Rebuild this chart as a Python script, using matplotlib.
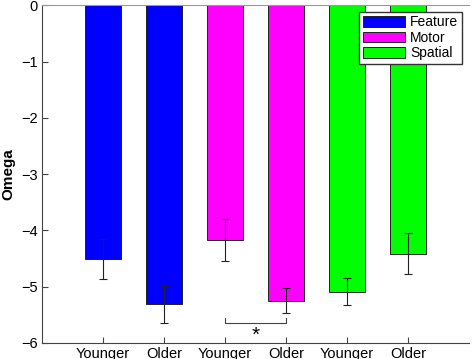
import numpy as np
import matplotlib
matplotlib.use("Agg")
import matplotlib.pyplot as plt
from matplotlib.patches import Patch

plt.rcParams['font.family'] = ['Liberation Sans', 'DejaVu Sans']

groups = ['Younger', 'Older', 'Younger', 'Older', 'Younger', 'Older']
omega = [-4.51, -5.31, -4.17, -5.25, -5.09, -4.41]
errs = [0.35, 0.33, 0.38, 0.22, 0.24, 0.36]
conditions = ['Feature', 'Motor', 'Spatial']
colors = ['#0000ff', '#ff00ff', '#00ff00']
bar_colors = [colors[0], colors[0], colors[1], colors[1], colors[2], colors[2]]

fig = plt.figure(figsize=(4.74, 3.59), dpi=100)
ax = fig.add_axes([0.0886, 0.0446, 0.9004, 0.9401])

x = np.arange(1, 7)
ax.bar(x, omega, width=0.6, color=bar_colors, edgecolor='#222222', linewidth=0.7)
ax.errorbar(x, omega, yerr=errs, fmt='none', ecolor='#222222', elinewidth=0.8, capsize=3, capthick=0.8)

# significance bracket between Motor Younger and Motor Older
ax.plot([3, 3, 4, 4], [-5.56, -5.64, -5.64, -5.56], color='#444444', lw=0.8)
ax.text(3.5, -5.69, '*', ha='center', va='top', fontsize=15)

ax.set_xlim(0, 7)
ax.set_ylim(-6, 0)
ax.set_xticks(x)
ax.set_xticklabels(groups, fontsize=10.5)
ax.set_yticks(np.arange(-6, 1))
ax.set_yticklabels([str(v).replace('-', '\u2212') for v in range(-6, 1)], fontsize=10.5)
ax.tick_params(direction='in', length=4, color='#444444', pad=3)
ax.set_ylabel('Omega', fontsize=11, fontweight='bold', labelpad=4)

ax.spines['right'].set_visible(False)
ax.spines['top'].set_color('#999999')
ax.spines['left'].set_color('#444444')
ax.spines['bottom'].set_color('#444444')

handles = [Patch(facecolor=c, edgecolor='#222222', linewidth=0.7) for c in colors]
ax.legend(handles, conditions, loc='upper right', bbox_to_anchor=(0.99, 0.99), fontsize=10,
          fancybox=False, edgecolor='#333333', framealpha=1, borderpad=0.25,
          handlelength=3.0, handleheight=0.8, labelspacing=0.12, handletextpad=0.4, borderaxespad=0.2)

fig.savefig('out.png', dpi=100)
